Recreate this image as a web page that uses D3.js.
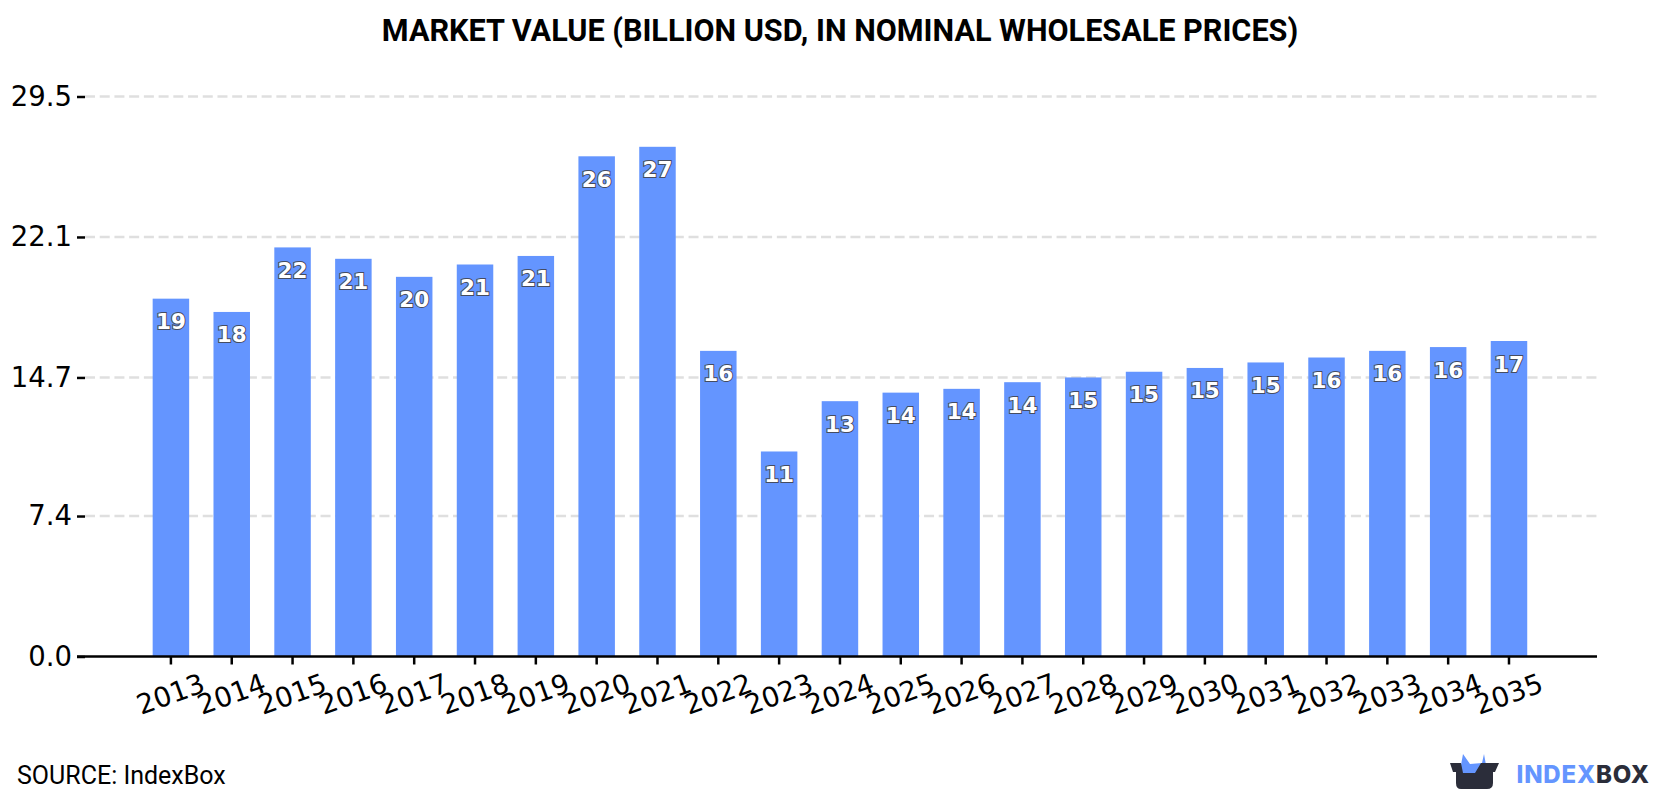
<!DOCTYPE html>
<html>
<head>
<meta charset="utf-8">
<script src="https://cdn.jsdelivr.net/npm/d3@7"></script>
<style>
html,body{margin:0;padding:0;background:#fff;}
svg{display:block;}
</style>
</head>
<body>
<svg id="chart" width="1680" height="800"></svg>
<script>
const years = ["2013","2014","2015","2016","2017","2018","2019","2020","2021","2022","2023","2024","2025","2026","2027","2028","2029","2030","2031","2032","2033","2034","2035"];
const marketValue = [18.85,18.15,21.55,20.95,20.0,20.65,21.1,26.35,26.85,16.1,10.8,13.45,13.9,14.1,14.45,14.7,15.0,15.2,15.49,15.75,16.1,16.3,16.62];
const yTicks = [0,7.4,14.7,22.1,29.5];

const svg = d3.select("#chart");
const plotTop = 96.5, plotBottom = 656.5, plotLeft = 85, plotRight = 1597;

const y = d3.scaleLinear().domain([0,29.5]).range([plotBottom,plotTop]);
const x = d3.scaleBand().domain(years).range([140.5,1539.4]).paddingInner(0.4).paddingOuter(0.2);

// Title
svg.append("text").attr("x",840).attr("y",41).attr("text-anchor","middle")
  .attr("font-family","Roboto").attr("font-weight",700).attr("font-size",30.6).attr("fill","#000")
  .text("MARKET VALUE (BILLION USD, IN NOMINAL WHOLESALE PRICES)");

// Dashed horizontal grid
svg.append("g").selectAll("line").data(yTicks.filter(d=>d>0)).join("line")
  .attr("x1",plotLeft).attr("x2",plotRight).attr("y1",d=>y(d)).attr("y2",d=>y(d))
  .attr("stroke","#dfdfdf").attr("stroke-width",2.5).attr("stroke-dasharray","10 4.72");

// Bars
svg.append("g").selectAll("rect").data(years).join("rect")
  .attr("x",d=>x(d)).attr("width",x.bandwidth())
  .attr("y",(d,i)=>y(marketValue[i])).attr("height",(d,i)=>y(0)-y(marketValue[i]))
  .attr("fill","#6495ff");

// Value labels with a dark outline
svg.append("g").selectAll("text").data(years).join("text")
  .attr("x",d=>x(d)+x.bandwidth()/2).attr("y",(d,i)=>y(marketValue[i])+30.5)
  .attr("text-anchor","middle").attr("font-family","DejaVu Sans").attr("font-weight",700).attr("font-size",21.5)
  .attr("fill","#fff").attr("stroke","#454c60").attr("stroke-width",2).attr("paint-order","stroke")
  .text((d,i)=>Math.round(marketValue[i]));

// Left axis
const yAxis = d3.axisLeft(y).tickValues(yTicks).tickFormat(d3.format(".1f")).tickSize(8).tickPadding(5);
const yG = svg.append("g").attr("transform",`translate(${plotLeft},0)`).call(yAxis);
yG.select(".domain").remove();
yG.selectAll(".tick line").attr("stroke","#000").attr("stroke-width",2.5);
yG.selectAll(".tick text").attr("font-family","DejaVu Sans").attr("font-size",27.5).attr("fill","#000");

// Bottom axis with slanted year labels
const xAxis = d3.axisBottom(x).tickSize(8).tickPadding(0);
const xG = svg.append("g").attr("transform",`translate(0,${plotBottom})`).call(xAxis);
xG.select(".domain").remove();
xG.selectAll(".tick line").attr("stroke","#000").attr("stroke-width",2.5);
xG.selectAll(".tick text")
  .attr("font-family","DejaVu Sans").attr("font-size",27.5).attr("fill","#000")
  .attr("text-anchor","middle").attr("dy",null).attr("y",null)
  .attr("transform","translate(3,46.5) rotate(-20)");
svg.append("line").attr("x1",plotLeft-8).attr("x2",plotRight).attr("y1",plotBottom).attr("y2",plotBottom)
  .attr("stroke","#000").attr("stroke-width",2.5);

// Source line
svg.append("text").attr("x",17).attr("y",784).attr("font-family","Roboto").attr("font-size",25).attr("fill","#000")
  .text("SOURCE: IndexBox");

// Brand mark
const logo = svg.append("g");
logo.append("path").attr("fill","#6495ff")
  .attr("d","M1461 765 L1463 754 L1470 764 L1482 763 L1484 754 L1486 765 L1487 773 L1461 773 Z");
logo.append("path").attr("fill","#2b2d3a")
  .attr("d","M1450 763 L1461 763 L1463 773 L1475 773 L1481 763 L1499 763 L1495 772 L1493 772 L1493 783 Q1493 789 1487 789 L1461 789 Q1456 789 1456 783 L1456 772 L1453 772 Z");
svg.append("text").attr("x",1516.5).attr("y",783).attr("font-family","Inter").attr("font-weight",800).attr("font-size",24)
  .attr("letter-spacing",0.8)
  .call(t=>{
    t.append("tspan").attr("fill","#6495ff").text("INDEX");
    t.append("tspan").attr("fill","#2b2d3a").text("BOX");
  });
</script>
</body>
</html>
